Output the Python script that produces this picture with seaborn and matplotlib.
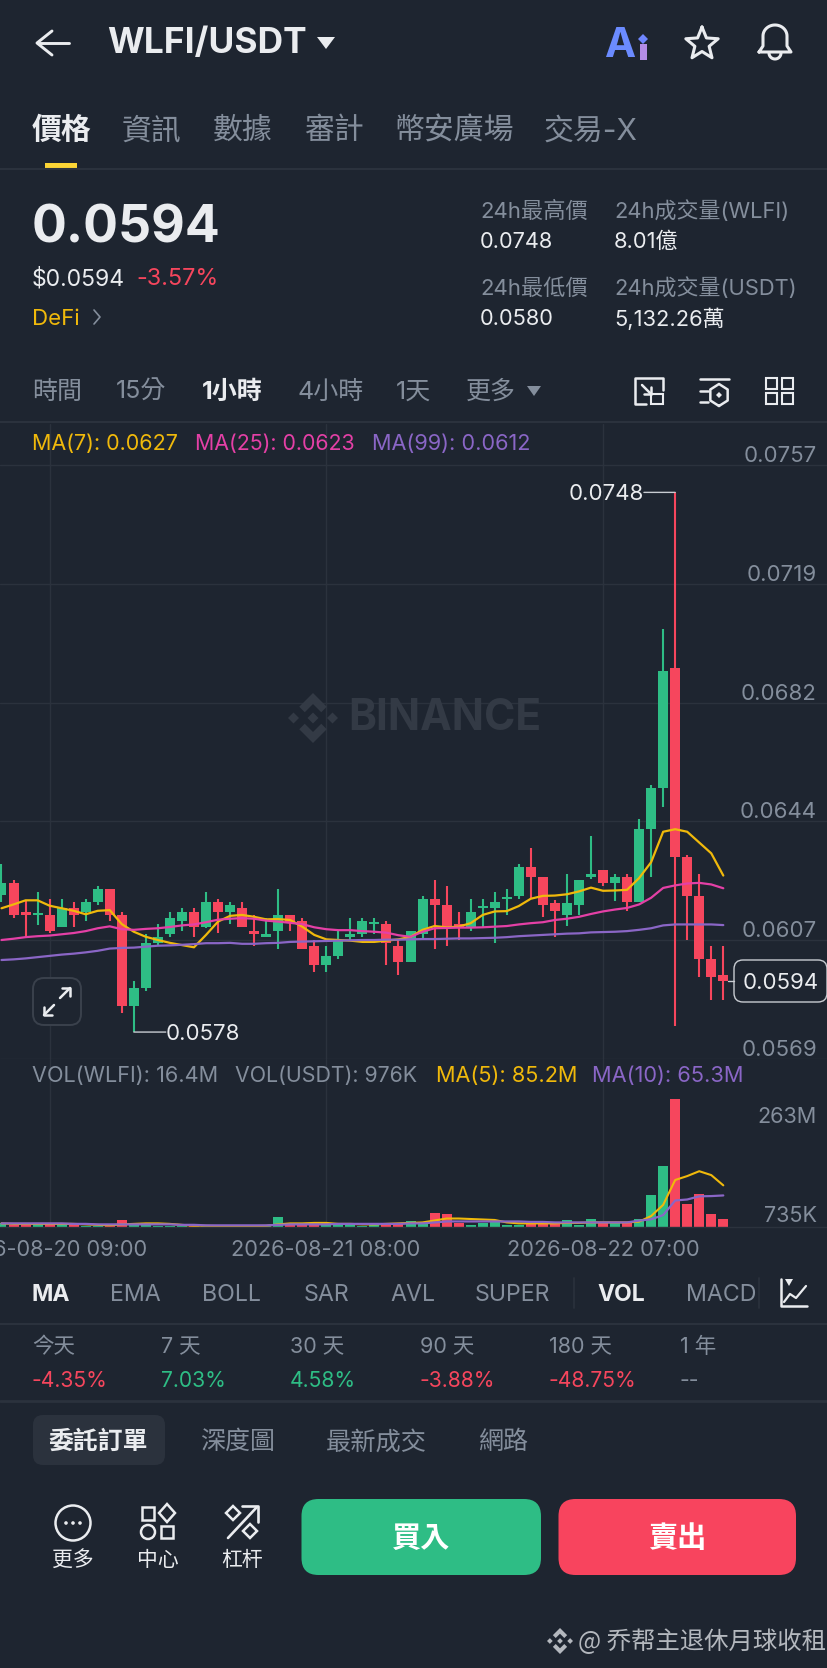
# WLFI/USDT 1h candles, phone screenshot layout
import matplotlib
matplotlib.use("Agg")
import matplotlib.pyplot as plt
import numpy as np
import seaborn as sns
from matplotlib.lines import Line2D
from matplotlib.patches import Circle, FancyBboxPatch, Polygon, Rectangle

BG = "#1e2530"
GRID = "#2b323d"
GRAY = "#848e9c"
WHITE = "#eaecef"
GREEN = "#2ebd85"
RED = "#f6465d"
YELLOW = "#f0b90b"
PINK = "#e440a6"
PURPLE = "#8a66c6"

W, H = 828, 1668

# prices x 100000, one hourly candle each
open_px = [6211, 6250, 6159, 6149, 6149, 6110, 6170, 6159, 6189, 6230,
           6149, 5862, 5920, 6060, 6090, 6130, 6159, 6110, 6189, 6159,
           6170, 6099, 6080, 6099, 6149, 6130, 6051, 5990, 6020, 6080,
           6090, 6119, 6119, 6051, 6000, 6090, 6199, 6179, 6119, 6110,
           6170, 6170, 6199, 6210, 6299, 6269, 6188, 6150, 6180, 6268,
           6290, 6250, 6268, 6190, 6420, 6549, 6928, 6330, 6209, 6010,
           5960]
close_px = [6249, 6149, 6149, 6156, 6099, 6170, 6149, 6189, 6230, 6149,
            5862, 5920, 6060, 6080, 6139, 6159, 6110, 6189, 6159, 6179,
            6110, 6090, 6090, 6149, 6123, 6041, 5990, 6020, 6070, 6090,
            6130, 6128, 6060, 6000, 6099, 6199, 6179, 6110, 6110, 6159,
            6176, 6189, 6206, 6299, 6269, 6180, 6160, 6188, 6259, 6279,
            6250, 6268, 6190, 6420, 6549, 6917, 6330, 6209, 6011, 5952,
            5941]
high_px = [6309, 6259, 6196, 6220, 6199, 6199, 6189, 6199, 6240, 6232,
           6159, 5940, 6088, 6120, 6159, 6170, 6170, 6220, 6199, 6189,
           6189, 6149, 6139, 6230, 6149, 6139, 6070, 6051, 6099, 6139,
           6139, 6139, 6130, 6070, 6099, 6210, 6259, 6240, 6159, 6199,
           6199, 6220, 6230, 6309, 6359, 6269, 6197, 6279, 6259, 6399,
           6290, 6279, 6279, 6450, 6557, 7049, 7480, 6338, 6279, 6051,
           6051]
low_px = [6191, 6140, 6080, 6117, 6092, 6110, 6110, 6130, 6180, 6130,
          5841, 5780, 5910, 6051, 6080, 6099, 6080, 6108, 6091, 6120,
          6110, 6051, 6080, 6041, 6099, 6041, 5970, 5970, 6010, 6070,
          6080, 6090, 5990, 5960, 6000, 6070, 6041, 6051, 6070, 6099,
          6110, 6060, 6149, 6199, 6199, 6141, 6081, 6113, 6150, 6261,
          6240, 6192, 6160, 6190, 6270, 6490, 5800, 6070, 5952, 5881,
          5881]

ma7_px = [6170, 6182, 6195, 6195, 6178, 6170, 6162, 6151, 6162, 6164,
          6120, 6096, 6080, 6070, 6061, 6054, 6047, 6086, 6128, 6146,
          6149, 6143, 6135, 6136, 6133, 6112, 6086, 6072, 6070, 6068,
          6064, 6064, 6068, 6072, 6080, 6102, 6114, 6110, 6112, 6123,
          6149, 6160, 6161, 6177, 6200, 6209, 6210, 6214, 6223, 6235,
          6225, 6226, 6228, 6265, 6315, 6411, 6419, 6411, 6377, 6343,
          6273]
ma25_px = [6070, 6074, 6079, 6082, 6084, 6088, 6092, 6098, 6107, 6113,
           6104, 6102, 6105, 6107, 6111, 6116, 6119, 6126, 6134, 6137,
           6139, 6137, 6131, 6128, 6124, 6120, 6110, 6104, 6101, 6101,
           6098, 6096, 6093, 6085, 6080, 6096, 6107, 6108, 6109, 6109,
           6110, 6112, 6114, 6119, 6123, 6126, 6133, 6137, 6143, 6152,
           6160, 6166, 6171, 6182, 6203, 6234, 6242, 6248, 6250, 6245,
           6233]
ma99_px = [6007, 6009, 6012, 6016, 6020, 6024, 6027, 6031, 6036, 6043,
           6045, 6046, 6049, 6052, 6053, 6055, 6057, 6060, 6060, 6061,
           6058, 6058, 6060, 6061, 6064, 6065, 6066, 6067, 6068, 6069,
           6070, 6070, 6071, 6071, 6072, 6073, 6073, 6074, 6075, 6075,
           6076, 6077, 6079, 6082, 6084, 6086, 6088, 6090, 6091, 6094,
           6095, 6096, 6098, 6102, 6107, 6116, 6119, 6119, 6119, 6119,
           6117]

# volume in millions
volume = [8.2, 4.8, 4.8, 6.8, 8.2, 6.8, 8.2, 3, 2.7, 2.7,
          15, 9.6, 6.8, 2.7, 2.7, 2.5, 2.5, 2.5, 2, 2,
          2.7, 2.7, 2, 20.5, 6.8, 6.8, 6.8, 6.8, 5.5, 5.5,
          3.4, 4.8, 8.2, 9.6, 12.3, 8.2, 28.7, 27.3, 8.2, 4.8,
          8.2, 12.3, 5.5, 4.8, 8.2, 6.8, 8.2, 14.4, 4.8, 16.4,
          8.2, 8.2, 8.2, 16.4, 67, 126, 263, 48.5, 69, 27.3,
          16.4]
vol_ma5 = [8, 7, 7, 7, 7, 7, 7, 6, 5, 4,
           6, 7, 8, 8, 7, 5, 3, 3, 2.5, 2.5,
           2.5, 2.5, 3, 6, 8, 8, 9, 9, 7, 7,
           6, 6, 7, 8, 9, 10, 14, 18, 18, 17,
           16, 15, 10, 8, 8, 8, 8, 9, 9, 10,
           10, 10, 10, 11.6, 23, 46, 97, 105, 115, 107,
           86]
vol_ma10 = [8, 8, 8, 8, 8, 8, 7, 7, 6, 6,
            6, 6, 6, 6, 6, 5, 5, 4, 4, 4,
            4, 4, 4, 5, 6, 6, 6, 6, 7, 7,
            7, 7, 7, 7, 8, 8, 10, 12, 12, 12,
            12, 12, 12, 12, 11, 11, 10, 10, 10, 10,
            10, 10, 10, 13.7, 16.4, 25, 55, 57, 63.5, 64,
            65.3]

grid_prices = [0.05696, 0.0607, 0.06444, 0.06817, 0.07191, 0.07565]
grid_labels = ["0.0569", "0.0607", "0.0644", "0.0682", "0.0719", "0.0757"]
date_ticks = [4, 27, 50]
date_labels = ["2026-08-20 09:00", "2026-08-21 08:00", "2026-08-22 07:00"]

period_names = ["今天", "7 天", "30 天", "90 天", "180 天", "1 年"]
period_values = ["-4.35%", "7.03%", "4.58%", "-3.88%", "-48.75%", "--"]

sns.set_theme(style="dark", rc={"figure.facecolor": BG, "axes.facecolor": BG,
                                "savefig.facecolor": BG, "axes.grid": True,
                                "grid.color": GRID, "grid.linewidth": 1.0})
FONT = ["Inter", "Noto Sans CJK TC", "DejaVu Sans"]
plt.rcParams["font.family"] = FONT

idx = np.arange(len(open_px))
o = np.array(open_px) / 1e5
c = np.array(close_px) / 1e5
hi = np.array(high_px) / 1e5
lo = np.array(low_px) / 1e5
up = c >= o
colors = [GREEN if u else RED for u in up]

fig = plt.figure(figsize=(W / 100, H / 100), dpi=100)


def px_axes(top, bottom):
    ax = fig.add_axes([0, 1 - bottom / H, 1, (bottom - top) / H])
    ax.set_xlim(-1.5 / 12.03, (W - 1.5) / 12.03)
    for s in ax.spines.values():
        s.set_visible(False)
    ax.set_axisbelow(True)
    ax.tick_params(length=0, labelleft=False, labelbottom=False)
    return ax


# price panel, 1 px = 0.0000315
ax = px_axes(424, 1059)
ax.vlines(idx, lo, hi, colors=colors, linewidth=1.5, zorder=2)
ax.bar(idx, np.abs(c - o), bottom=np.minimum(o, c), width=0.83, color=colors, linewidth=0, zorder=3)
sns.lineplot(x=idx, y=np.array(ma7_px) / 1e5, color=YELLOW, linewidth=1.6, ax=ax, zorder=4, errorbar=None)
sns.lineplot(x=idx, y=np.array(ma25_px) / 1e5, color=PINK, linewidth=1.6, ax=ax, zorder=5, errorbar=None)
sns.lineplot(x=idx, y=np.array(ma99_px) / 1e5, color=PURPLE, linewidth=1.6, ax=ax, zorder=6, errorbar=None)
ax.set_xlim(-1.5 / 12.03, (W - 1.5) / 12.03)
ax.set_ylim(0.0607 - 119 * 0.0000315, 0.0607 + 516 * 0.0000315)
ax.set_xticks(date_ticks)
ax.set_yticks(grid_prices)
ax.set_xlabel("")
ax.set_ylabel("")
ax.grid(True, color=GRID, linewidth=1.0)

for p, lab in zip(grid_prices, grid_labels):
    ax.annotate(lab, xy=(1, p), xycoords=("axes fraction", "data"), xytext=(-8, 6.6),
                textcoords="offset points", ha="right", va="center", color=GRAY, fontsize=16)

top_i = int(np.argmax(hi))
low_i = int(np.argmin(lo))
leader = dict(arrowstyle="-", color="#c8ccd2", lw=1, shrinkA=0, shrinkB=0)
ax.annotate("", xy=(top_i, hi[top_i]), xytext=(-22.5, 0), textcoords="offset points", arrowprops=leader, zorder=8)
ax.annotate("", xy=(low_i, lo[low_i]), xytext=(23, 0), textcoords="offset points", arrowprops=leader, zorder=8)
ax.annotate("0.0748", xy=(top_i, hi[top_i]), xytext=(-22.5, -1.5), textcoords="offset points",
            ha="right", va="center", color=WHITE, fontsize=16, zorder=8)
ax.annotate("0.0578", xy=(low_i, lo[low_i]), xytext=(23, -1.5), textcoords="offset points",
            ha="left", va="center", color=WHITE, fontsize=16, zorder=8)

# volume panel, 1 px = 2.05M
vx = px_axes(1059, 1227.3)
direction = ["up" if u else "down" for u in up]
sns.barplot(x=idx, y=volume, hue=direction, palette={"up": GREEN, "down": RED}, native_scale=True,
            dodge=False, width=0.83, saturation=1, legend=False, errorbar=None, ax=vx, zorder=3,
            linewidth=0, edgecolor="none")
sns.lineplot(x=idx, y=vol_ma5, color=YELLOW, linewidth=1.5, ax=vx, zorder=4, errorbar=None)
sns.lineplot(x=idx, y=vol_ma10, color=PURPLE, linewidth=1.6, ax=vx, zorder=5, errorbar=None)
vx.set_xlim(-1.5 / 12.03, (W - 1.5) / 12.03)
vx.set_ylim(0, 168.3 * 2.05)
vx.set_xticks(date_ticks)
vx.set_yticks([])
vx.set_xlabel("")
vx.set_ylabel("")
vx.grid(True, axis="x", color=GRID, linewidth=1.0)

# everything else sits on a pixel canvas over the whole figure
ui = fig.add_axes([0, 0, 1, 1], facecolor="none", zorder=10)
ui.set_xlim(0, W)
ui.set_ylim(H, 0)
ui.axis("off")


def label(x, y, s, color=GRAY, size=16, ha="left", weight="normal", family=None):
    ui.text(x, y + 2.2, s, color=color, fontsize=size, ha=ha, va="center", fontweight=weight,
            family=family or FONT)


def stroke(xs, ys, color=WHITE, lw=1.9):
    ui.add_line(Line2D(xs, ys, color=color, lw=lw, solid_capstyle="round", solid_joinstyle="round"))


def rbox(x0, y0, x1, y1, r, fc="none", ec="none", lw=0):
    ui.add_patch(FancyBboxPatch((x0 + r, y0 + r), x1 - x0 - 2 * r, y1 - y0 - 2 * r,
                                boxstyle=f"round,pad={r},rounding_size={r}", fc=fc, ec=ec, lw=lw))


def hline(y, x0=0, x1=W, lw=1.5):
    ui.add_line(Line2D([x0, x1], [y, y], color=GRID, lw=lw))


def diamond(cx, cy, r, color):
    ui.add_patch(Polygon([(cx - r, cy), (cx, cy - r), (cx + r, cy), (cx, cy + r)], fc=color, ec="none"))


def binance_logo(cx, cy, r, color):
    # centre, side diamonds and the two chevrons
    diamond(cx, cy, r * 0.22, color)
    diamond(cx - r * 0.78, cy, r * 0.22, color)
    diamond(cx + r * 0.78, cy, r * 0.22, color)
    for s in (-1, 1):
        ui.add_patch(Polygon([(cx, cy + s * r), (cx + r * 0.55, cy + s * r * 0.45),
                              (cx + r * 0.33, cy + s * r * 0.23), (cx, cy + s * r * 0.56),
                              (cx - r * 0.33, cy + s * r * 0.23), (cx - r * 0.55, cy + s * r * 0.45)],
                             fc=color, ec="none"))


def tri(x0, x1, y0, y1, color):
    ui.add_patch(Polygon([(x0, y0), (x1, y0), ((x0 + x1) / 2, y1)], fc=color, ec="none"))


# header
stroke([69, 38], [43, 43], lw=2.1)
stroke([52, 37, 52], [31, 43, 55], lw=2.1)
label(107, 41, "WLFI/USDT", WHITE, 25.5, weight="bold")
tri(317, 335, 37, 49, WHITE)
ui.text(621, 46, "A", color="#6b8bff", fontsize=30, ha="center", va="center", fontweight="bold")
ui.add_patch(Rectangle((640, 44), 7, 16, fc="#b48ce6", ec="none"))
diamond(643, 39, 5, "#6f86ff")
ang = np.linspace(np.pi / 2, np.pi / 2 + 2 * np.pi, 11)
rad = np.array([17, 7.5] * 5 + [17])
stroke(702 + rad * np.cos(ang), 44 - rad * np.sin(ang), lw=2.2)
t = np.linspace(np.pi, 0, 30)
bx = np.r_[759, 763, 763 + 12 * (1 + np.cos(t)), 787, 791, 759]
by = np.r_[52, 46, 36 - 11 * np.sin(t), 46, 52, 52]
stroke(bx, by, lw=2.2)
t = np.linspace(0, np.pi, 20)
stroke(775 + 6 * np.cos(t), 53 + 6 * np.sin(t), lw=2.2)

# top tabs
label(32, 129, "價格", WHITE, 21.5, weight="bold")
for x, s in [(122, "資訊"), (213, "數據"), (304, "審計"), (394, "幣安廣場"), (544, "交易-X")]:
    label(x, 129, s, GRAY, 21.5)
ui.add_patch(Rectangle((45, 163), 32, 6, fc="#fcd535", ec="none"))
hline(169)

# summary block
label(32, 227, "0.0594", WHITE, 37.3, weight="bold")
label(32, 277, "$0.0594", WHITE, 16.5)
label(136, 277, "-3.57%", RED, 16.8)
label(32, 317, "DeFi", YELLOW, 16)
stroke([94, 100, 94], [310, 317, 324], color=GRAY, lw=1.2)
label(480, 209, "24h最高價", GRAY, 16)
label(480, 240, "0.0748", WHITE, 15.7)
label(614, 209, "24h成交量(WLFI)", GRAY, 15.8)
label(614, 240, "8.01億", WHITE, 15.8)
label(480, 286, "24h最低價", GRAY, 16)
label(480, 317, "0.0580", WHITE, 15.7)
label(614, 286, "24h成交量(USDT)", GRAY, 15.8)
label(614, 317, "5,132.26萬", WHITE, 15.8)

# interval row
for x, s in [(32, "時間"), (116, "15分"), (298, "4小時"), (396, "1天"), (466, "更多")]:
    label(x, 390, s, GRAY, 18)
label(202, 390, "1小時", WHITE, 18, weight="bold")
tri(527, 541, 386, 396, GRAY)
stroke([646, 635, 635, 663, 663], [404, 404, 378, 378, 390], lw=1.8)
stroke([642, 651], [385, 394], lw=1.8)
stroke([651, 644], [394, 394], lw=1.8)
stroke([651, 651], [394, 387], lw=1.8)
ui.add_patch(Rectangle((651, 394), 12, 10, fc="none", ec=WHITE, lw=1.5))
stroke([700, 729], [379, 379], lw=1.8)
stroke([700, 708], [391, 391], lw=1.8)
stroke([700, 708], [402, 402], lw=1.8)
hexa = np.linspace(np.pi / 2, np.pi / 2 + 2 * np.pi, 7)
stroke(719 + 10 * np.cos(hexa), 395 + 11 * np.sin(hexa), lw=1.8)
diamond(719, 395, 3, WHITE)
for x in (766, 782):
    for y in (378, 393):
        ui.add_patch(Rectangle((x, y), 11, 11, fc="none", ec=WHITE, lw=1.5))
hline(422)

# moving average legend
label(32, 442, "MA(7): 0.0627", YELLOW, 15.5)
label(195, 442, "MA(25): 0.0623", PINK, 15.4)
label(372, 442, "MA(99): 0.0612", PURPLE, 15.6)

# watermark inside the chart
binance_logo(313, 718, 25, "#333a45")
label(348, 716, "BINANCE", "#333a45", 30.5, weight="bold")

# current price tag
ui.add_line(Line2D([728, 734], [981, 981], color="#c8ccd2", lw=1))
rbox(734, 960, 827, 1002, 9, fc=BG, ec="#c8ccd2", lw=1)
label(781, 981, "0.0594", WHITE, 16, ha="center")

# expand button
rbox(33, 978, 81, 1025, 11, fc=BG, ec="#3a414c", lw=1.4)
stroke([60, 70], [998, 988], lw=1.8)
stroke([62, 70, 70], [988, 988, 996], lw=1.8)
stroke([54, 44], [1005, 1015], lw=1.8)
stroke([44, 44, 52], [1007, 1015, 1015], lw=1.8)

# volume legend and labels
label(32, 1074, "VOL(WLFI): 16.4M", GRAY, 15.6)
label(235, 1074, "VOL(USDT): 976K", GRAY, 15.4)
label(436, 1074, "MA(5): 85.2M", YELLOW, 15.6)
label(592, 1074, "MA(10): 65.3M", PURPLE, 15.7)
label(817, 1115, "263M", GRAY, 15.6, ha="right")
label(817, 1214, "735K", GRAY, 15.6, ha="right")
hline(1227.3, lw=1)
for tick, s in zip([49.6, 326, 603], date_labels):
    label(tick, 1248, s, GRAY, 15.7, ha="center")

# indicator row
label(32, 1293, "MA", WHITE, 16.5, weight="bold")
for x, s in [(110, "EMA"), (202, "BOLL"), (304, "SAR"), (390, "AVL"), (475, "SUPER"), (686, "MACD")]:
    label(x, 1293, s, GRAY, 16.7)
label(597, 1293, "VOL", WHITE, 16.5, weight="bold")
for x in (574, 759):
    ui.add_line(Line2D([x, x], [1278, 1308], color=GRID, lw=1.2))
stroke([781, 781, 807], [1279, 1306, 1306], lw=1.8)
stroke([784, 790, 796, 806], [1302, 1294, 1298, 1286], lw=1.6)
tri(785, 793, 1279, 1286, WHITE)
hline(1324)

# change per period
for x, s, v in zip([32, 161, 290, 420, 549, 680], period_names, period_values):
    label(x, 1345, s, GRAY, 15.5)
    col = GRAY if v == "--" else (RED if v.startswith("-") else GREEN)
    label(x, 1379, v, col, 15.2)
hline(1401, lw=2)

# lower tabs
rbox(33, 1415, 165, 1465, 10, fc="#2b323d")
label(98, 1440, "委託訂單", WHITE, 17.9, ha="center", weight="bold")
label(200, 1440, "深度圖", GRAY, 18)
label(326, 1440, "最新成交", GRAY, 18.2)
label(478, 1440, "網路", GRAY, 18)

# bottom bar icons
ui.add_patch(Circle((73, 1523), 17.5, fc="none", ec=WHITE, lw=1.8))
for x in (66, 73, 80):
    ui.add_patch(Circle((x, 1523), 1.8, fc=WHITE, ec="none"))
ui.add_patch(Rectangle((142, 1507), 12, 13, fc="none", ec=WHITE, lw=1.8))
ui.add_patch(Polygon([(167, 1504), (175, 1513), (167, 1522), (159, 1513)], fc="none", ec=WHITE, lw=1.8))
ui.add_patch(Circle((148, 1532), 7, fc="none", ec=WHITE, lw=1.8))
ui.add_patch(Rectangle((161, 1526), 12, 12, fc="none", ec=WHITE, lw=1.8))
stroke([228, 257], [1538, 1507], lw=1.9)
stroke([242, 258, 258], [1506, 1506, 1522], lw=1.9)
ui.add_patch(Polygon([(233, 1506), (240, 1513), (233, 1520), (226, 1513)], fc="none", ec=WHITE, lw=1.8))
ui.add_patch(Polygon([(250, 1524), (257, 1531), (250, 1538), (243, 1531)], fc="none", ec=WHITE, lw=1.8))
label(73, 1558, "更多", WHITE, 15, ha="center")
label(158, 1558, "中心", WHITE, 15, ha="center")
label(242, 1558, "杠杆", WHITE, 15, ha="center")

# buy and sell buttons
rbox(301.5, 1499, 541, 1575, 17, fc=GREEN)
rbox(558.5, 1499, 796, 1575, 17, fc="#f8445e")
label(421, 1537, "買入", "white", 21, ha="center", weight="bold")
label(677, 1537, "賣出", "white", 21, ha="center", weight="bold")

# repost watermark
binance_logo(560, 1641, 13, "#b4b8be")
label(578, 1640, "@ 乔帮主退休月球收租", "#b4b8be", 17.6,
      family=["Noto Sans CJK SC", "DejaVu Sans"])

fig.savefig("out.png", dpi=100)
